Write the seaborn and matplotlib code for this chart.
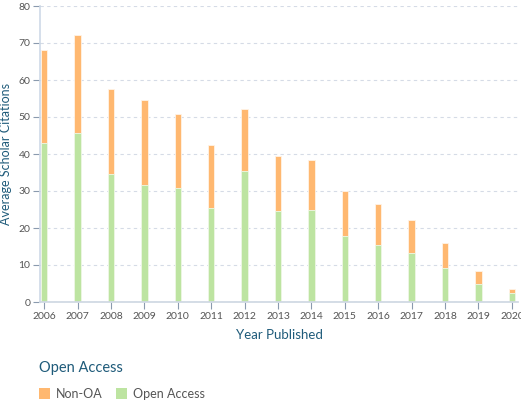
import numpy as np
import pandas as pd
import matplotlib
matplotlib.use("Agg")
import matplotlib.pyplot as plt
import seaborn as sns
from matplotlib.patches import Patch

# ==========================================================
# DATA
# ==========================================================

years = [2006, 2007, 2008, 2009, 2010, 2011, 2012, 2013,
         2014, 2015, 2016, 2017, 2018, 2019, 2020]

open_access = [43.0, 45.8, 34.6, 31.6, 30.9, 25.4, 35.4, 24.6,
               24.9, 17.8, 15.5, 13.2, 9.3, 4.8, 2.5]

non_oa = [25.2, 26.4, 23.0, 23.0, 19.9, 16.9, 16.7, 14.9,
          13.5, 12.2, 11.0, 9.0, 6.6, 3.5, 1.0]

df = pd.DataFrame({
    "Year": [str(y) for y in years],
    "Open Access": open_access,
    "Non-OA": non_oa,
})
df["Total"] = df["Open Access"] + df["Non-OA"]

orange = "#ffb870"
green = "#bde4a1"
label_col = "#1f5b7a"
tick_col = "#555555"

# ==========================================================
# PLOT
# ==========================================================

sns.set_theme(style="white")
plt.rcParams["font.family"] = ["Lato", "DejaVu Sans"]

fig = plt.figure(figsize=(5.21, 4.0), dpi=100)
ax = fig.add_axes([0.077, 0.245, 0.917, 0.74])

sns.barplot(data=df, x="Year", y="Total", color=orange,
            width=0.19, saturation=1, edgecolor="#fff3e6",
            linewidth=0.6, ax=ax)
sns.barplot(data=df, x="Year", y="Open Access", color=green,
            width=0.19, saturation=1, edgecolor="#eef8e8",
            linewidth=0.6, ax=ax)

ax.set_xlim(-0.12, len(years) - 1 + 0.18)
ax.set_ylim(0, 80)
ax.set_yticks(np.arange(0, 81, 10))

ax.yaxis.grid(True, linestyle=(0, (3, 3)), color="#d5dbe6", linewidth=0.8)
ax.set_axisbelow(True)

for s in ["top", "right"]:
    ax.spines[s].set_visible(False)
ax.spines["left"].set_color("#d0dbe8")
ax.spines["bottom"].set_color("#cfd8e3")

ax.tick_params(axis="both", length=5, width=0.8, color="#8a9aae",
               labelsize=7.5, labelcolor=tick_col, pad=2, bottom=True, left=True)

ax.set_xlabel("Year Published", fontsize=9.5, color=label_col, labelpad=6)
ax.set_ylabel("Average Scholar Citations", fontsize=9, color=label_col,
              labelpad=5)

# ==========================================================
# LEGEND
# ==========================================================

handles = [Patch(facecolor=orange, edgecolor="none", label="Non-OA"),
           Patch(facecolor=green, edgecolor="none", label="Open Access")]

leg = fig.legend(handles=handles, loc="lower left", ncol=2,
                 bbox_to_anchor=(0.06, -0.018), frameon=False,
                 title="Open Access", fontsize=9,
                 handlelength=0.9, handleheight=0.9, handletextpad=0.5,
                 columnspacing=1.0, borderaxespad=0.2)
leg._legend_box.align = "left"
leg.get_title().set_color(label_col)
leg.get_title().set_fontsize(10.5)
leg._legend_box.sep = 9
for t in leg.get_texts():
    t.set_color(tick_col)

fig.savefig("out.png", dpi=100)
